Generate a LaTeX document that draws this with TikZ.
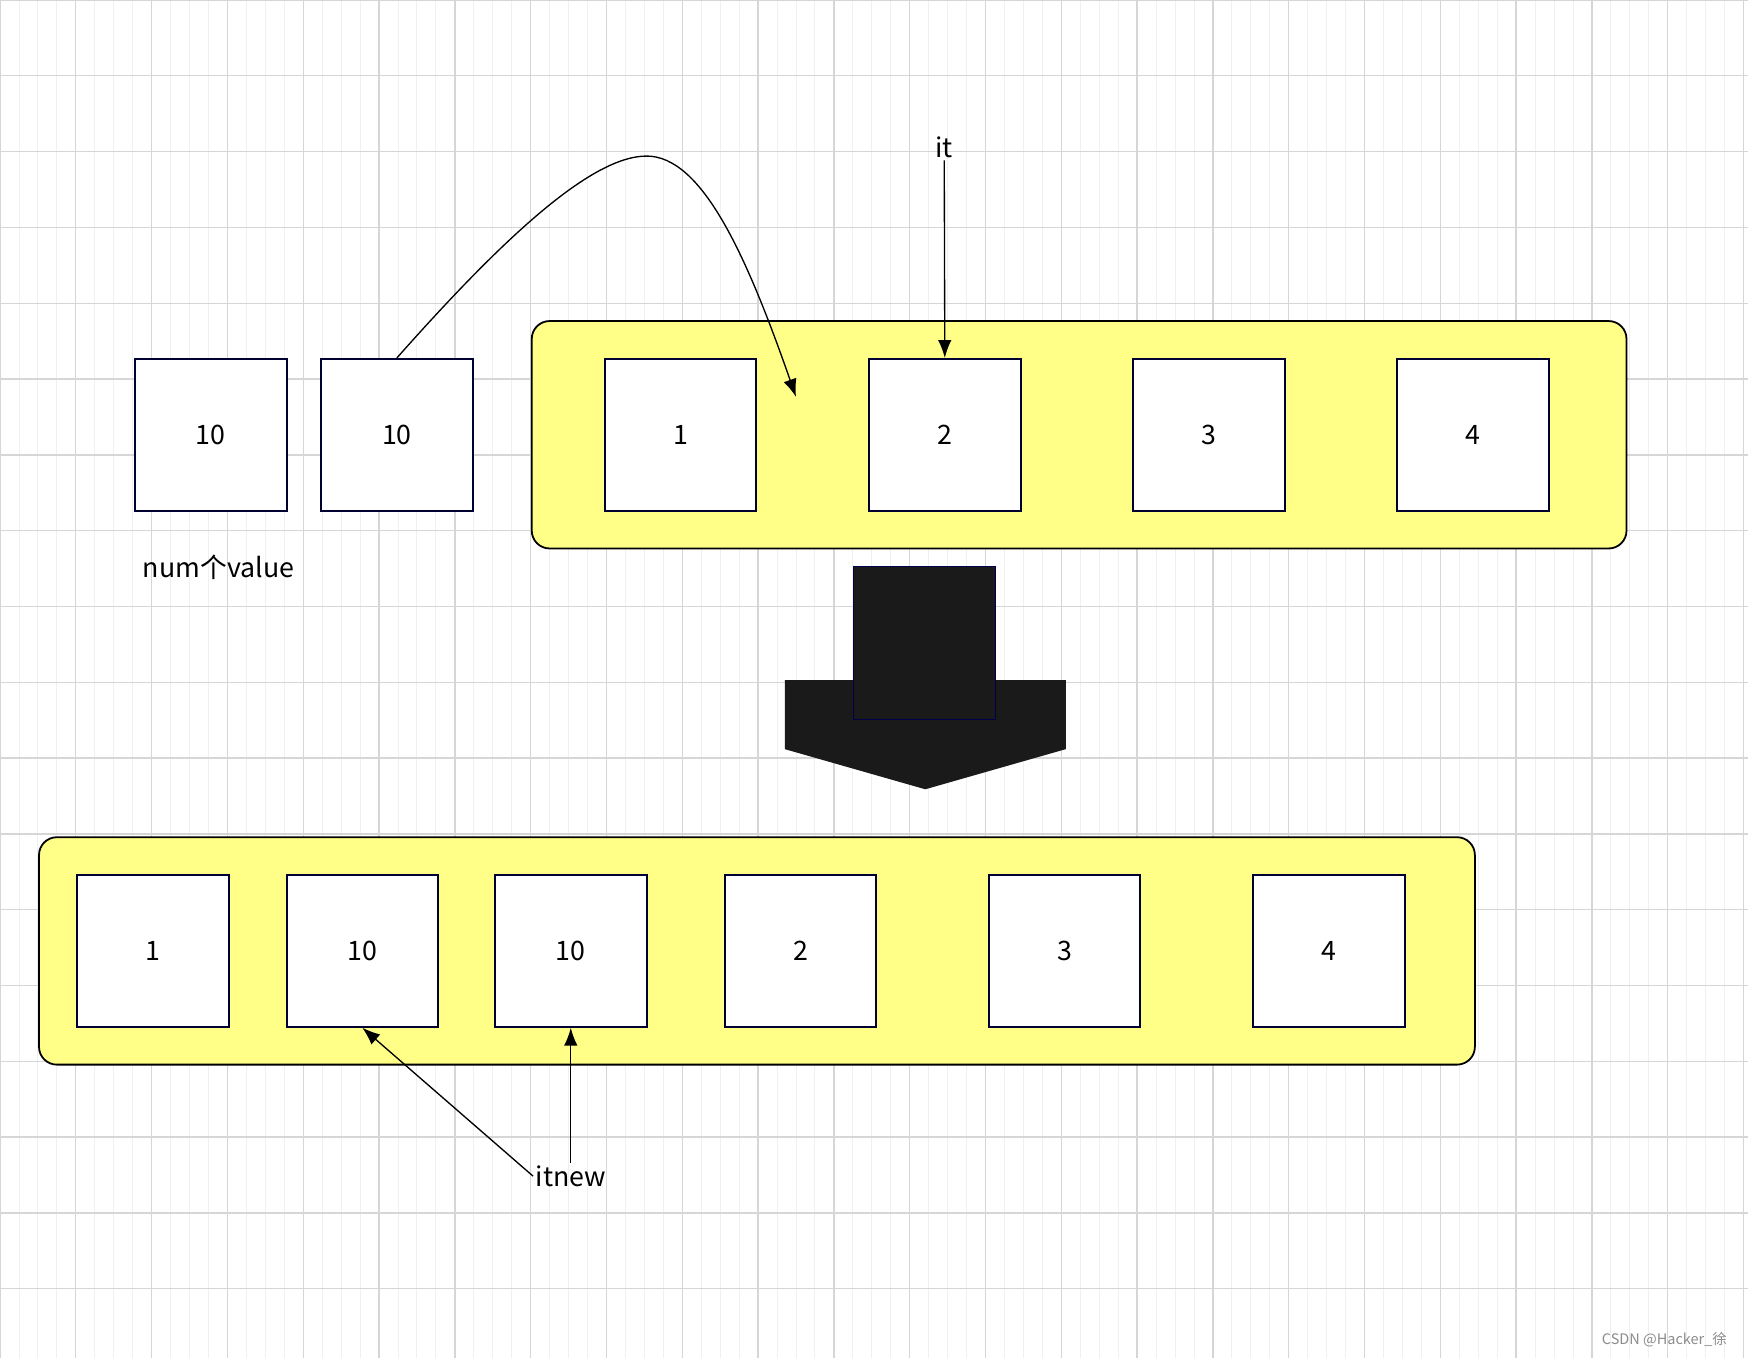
\documentclass[tikz,border=0pt]{standalone}
\usepackage{fontspec}
\setmainfont{Noto Sans CJK SC}
\usetikzlibrary{arrows.meta}
\definecolor{cy}{HTML}{FFFF88}
\definecolor{dk}{HTML}{1A1A1A}
\begin{document}
\begin{tikzpicture}[x=0.5pt,y=-0.5pt,
  box/.style={draw=black!80!blue,fill=white,line width=0.9pt,minimum width=68pt,minimum height=68pt,inner sep=0pt,font=\fontsize{12}{14}\selectfont},
  cont/.style={draw=black,fill=cy,rounded corners=8pt,line width=0.8pt},
  lab/.style={font=\fontsize{12}{14}\selectfont,inner sep=1pt},
  arr/.style={-{Latex[length=8pt,width=6pt]},line width=0.6pt}]
\useasboundingbox (0,0) rectangle (1568,1218);
\fill[white] (0,0) rectangle (1568,1218);
\draw[black!6,line width=0.4pt] (0,0) grid[step=17] (1568,1218);
\foreach \x in {0,68,...,1568} \draw[black!16,line width=0.6pt] (\x,0) -- (\x,1218);
\foreach \y in {0,68,...,1218} \draw[black!16,line width=0.6pt] (0,\y) -- (1568,\y);
% top
\draw[cont] (477,288) rectangle (1459,492);
\node[box] (a1) at (189,390) {10};
\node[box] (a2) at (356,390) {10};
\node[box] (b1) at (610.5,390) {1};
\node[box] (b2) at (847.5,390) {2};
\node[box] (b3) at (1084.5,390) {3};
\node[box] (b4) at (1321.5,390) {4};
\node[lab] (nv) at (196,509) {num个value};
\node[lab] (it) at (847,132) {it};
\coordinate (ct) at (714,356);
\draw[arr] (it.south) -- (b2.north);
\draw[arr] (a2.north) .. controls (450,215) and (530,140) .. (580,140) .. controls (630,140) and (670,230) .. (ct);
% big arrow
\fill[dk] (766,508) -- (893,508) -- (893,610) -- (956,610) -- (956,672) -- (830,708) -- (704,672) -- (704,610) -- (766,610) -- cycle;
\draw[blue!30!black,line width=0.4pt] (766,508) rectangle (893,645);
% bottom
\draw[cont] (35,751) rectangle (1323,955);
\node[box] (c1) at (137,853) {1};
\node[box] (c2) at (325,853) {10};
\node[box] (c3) at (512,853) {10};
\node[box] (c4) at (718,853) {2};
\node[box] (c5) at (955,853) {3};
\node[box] (c6) at (1192,853) {4};
\node[lab] (itn) at (512,1055) {itnew};
\draw[arr] (itn.west) -- (c2.south);
\draw[arr] (itn.north) -- (c3.south);
\node[font=\fontsize{6.5}{8}\selectfont,text=black!45] (wm) at (1493,1202) {CSDN @Hacker\_徐};
\end{tikzpicture}
\end{document}
